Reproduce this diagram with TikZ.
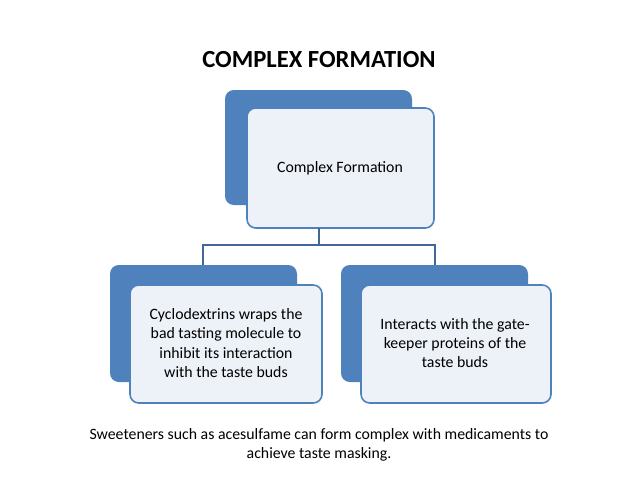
\documentclass[tikz,border=0pt]{standalone}
\usepackage{fontspec}
\setmainfont{Carlito}
\definecolor{dk}{HTML}{4F81BD}
\definecolor{lt}{HTML}{EDF1F8}
\begin{document}
\begin{tikzpicture}[x=0.02cm,y=-0.02cm,
  back/.style={fill=dk,draw=none,rounded corners=5pt},
  front/.style={fill=lt,draw=dk,line width=0.9pt,rounded corners=5pt},
  txt/.style={font=\fontsize{9}{11}\selectfont,align=center},
  conn/.style={draw=dk!80!black,line width=0.8pt}]
\useasboundingbox (0,0) rectangle (638,478);
\node[font=\bfseries\fontsize{14}{16}\selectfont] (title) at (319,60) {COMPLEX FORMATION};
% top
\fill[back] (225,90) rectangle (412,205);
\filldraw[front] (247,108) rectangle (434,228);
\node[txt] (top) at (340,168) {Complex Formation};
% left
\fill[back] (110,265) rectangle (297,382);
\filldraw[front] (130,285) rectangle (322,403);
\node[txt] (left) at (226,343) {Cyclodextrins wraps the\\bad tasting molecule to\\inhibit its interaction\\with the taste buds};
% right
\fill[back] (341,265) rectangle (528,382);
\filldraw[front] (361,285) rectangle (551,403);
\node[txt] (right) at (455,343) {Interacts with the gate-\\keeper proteins of the\\taste buds};
\coordinate (tb) at (319,228);
\coordinate (lb) at (203,265);
\coordinate (rb) at (435,265);
\draw[conn] (tb) -- (319,245) -| (lb);
\draw[conn] (319,245) -| (rb);
\node[txt] (bottom) at (319,445) {Sweeteners such as acesulfame can form complex with medicaments to\\achieve taste masking.};
\end{tikzpicture}
\end{document}
